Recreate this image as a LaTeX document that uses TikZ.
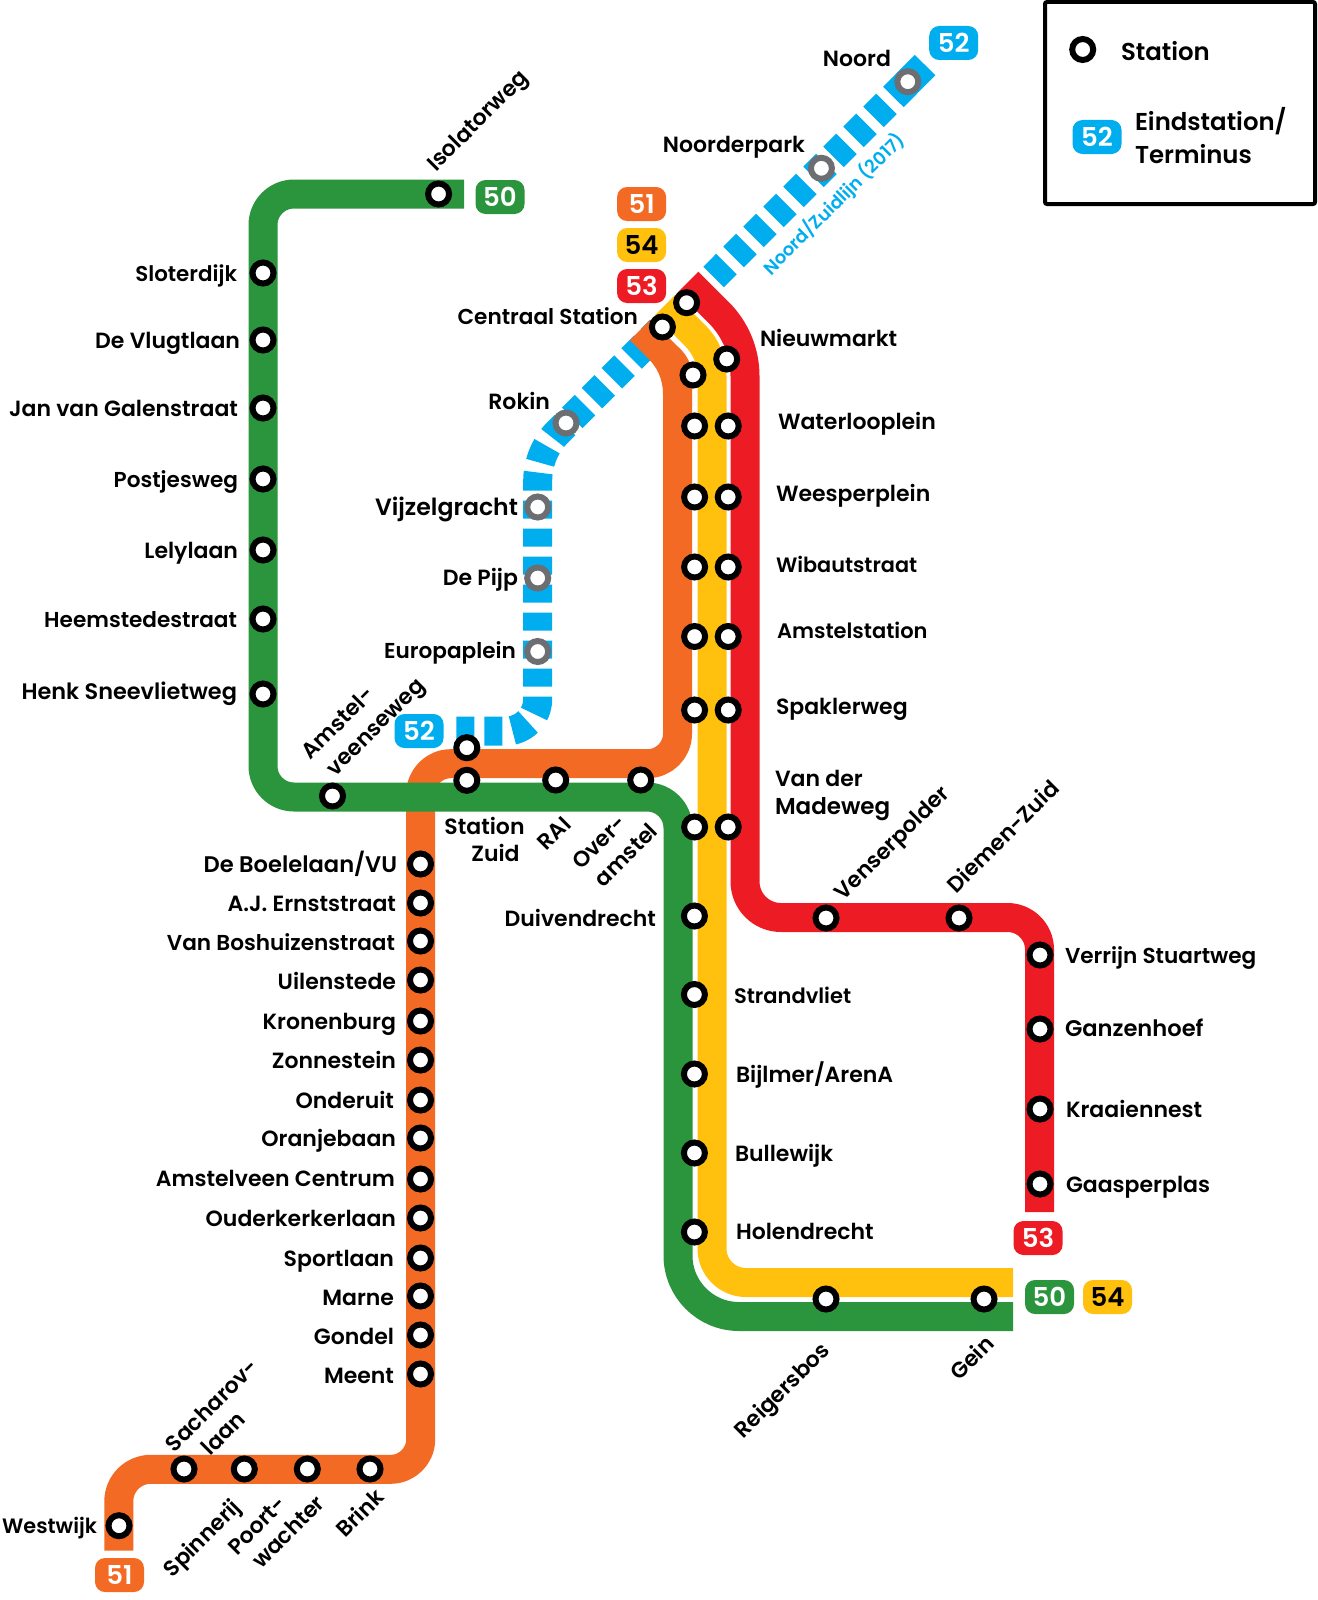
\documentclass[tikz,border=0pt]{standalone}
\usepackage{fontspec}
\setmainfont{Poppins SemiBold}
\newfontfamily\badgefont{Poppins SemiBold}
\definecolor{mgreen}{HTML}{2A953C}
\definecolor{morange}{HTML}{F36A24}
\definecolor{myellow}{HTML}{FFC10E}
\definecolor{mred}{HTML}{ED1C24}
\definecolor{mblue}{HTML}{00ADEF}
\definecolor{mgray}{HTML}{6D6E71}
\tikzset{
  track/.style={line width=14.5pt,line cap=butt,line join=round},
  bluedash/.style={line width=14.5pt,mblue,dash pattern=on 9pt off 5pt},
  stn/.style={circle,draw=black,fill=white,line width=3pt,minimum size=10.5pt,inner sep=0pt,outer sep=0pt},
  gstn/.style={stn,draw=mgray},
  lbl/.style={font=\fontsize{11}{13}\selectfont,inner sep=0pt,outer sep=0pt,text=black,text height=10pt,text depth=2pt},
  lr/.style={lbl,anchor=east},
  ll/.style={lbl,anchor=west},
  lc/.style={lbl,anchor=center},
  rt/.style={lbl,anchor=center,rotate=45},
  sz/.style={font=\fontsize{#1}{13}\selectfont},
  badge/.style={rounded corners=5pt,minimum width=24.5pt,minimum height=17pt,inner sep=0pt,font=\badgefont\fontsize{13}{13}\selectfont,text=white},
}
\begin{document}
\begin{tikzpicture}[x=.5pt,y=-.5pt]
\useasboundingbox (0,0) rectangle (1317,1600);
% blue dashed line
\draw[bluedash] (456.4,731) -- (505.7,731) .. controls (523.4,731) and (537.7,716.7) .. (537.7,699) -- (537.7,481) .. controls (537.7,462.4) and (545.1,444.9) .. (558.2,431.8) -- (660,330);
\draw[bluedash,dash pattern=on 9.15pt off 5pt] (713.5,277) -- (893.4,97);
\draw[line width=14.5pt,mblue] (893.4,97) -- (925,65);
% clipped lines meeting at Centraal Station
\begin{scope}
\clip (1100,-130) -- (-130,1100) -- (-130,1700) -- (1500,1700) -- (1500,-130) -- cycle;
\draw[track,morange] (620,310.2) -- (670.9,360.1) .. controls (675.1,364.3) and (677.5,370) .. (677.5,376) [rounded corners=15pt] -- (677.5,763.7) -- (420.7,763.7) -- (420.7,1469.3) [rounded corners=16pt] -- (118.8,1469.3) -- (118.8,1550.7);
\fill[morange] (646,356) .. controls (657,367) and (663,378) .. (663,395) -- (680,395) -- (680,360) -- cycle;
\draw[track,myellow] (640.3,280.7) -- (695.3,335.7) .. controls (706,346.4) and (712,360.9) .. (712,376) [rounded corners=17pt] -- (712,1282.5) -- (1013,1282.5);
\draw[track,mred] (670,264) -- (718.6,312.4) .. controls (735.5,329.3) and (745,352.1) .. (745,376) [rounded corners=18pt] -- (745,917.5) [rounded corners=16pt] -- (1039.5,917.5) -- (1039.5,1212);
\end{scope}
\draw[track,mgreen,rounded corners=15.5pt] (464,194) -- (263,194) -- (263,797) -- (678,797) [rounded corners=30.5pt] -- (678,1316.5) -- (1013,1316.5);
% stations: line 50 west
\foreach \n/\y in {a1/273,a2/340,a3/408,a4/479,a5/550,a6/619,a7/694} \node[stn] (\n) at (263,\y) {};
\node[stn] (iso) at (438.6,194) {};
\node[stn] (amv) at (332.5,796) {};
\node[stn] (zu1) at (466.8,747.7) {};
\node[stn] (zu2) at (466.8,780.3) {};
\node[stn] (rai) at (555.7,780) {};
\node[stn] (ova) at (640.7,780) {};
% double columns
\foreach \n/\y in {b1/426,b2/497,b3/567,b4/636.5,b5/710,b6/827} {\node[stn] (\n l) at (694.6,\y) {}; \node[stn] (\n r) at (728.2,\y) {};}
\node[stn] (cs1) at (662.4,327) {};
\node[stn] (cs2) at (686.6,302.7) {};
\node[stn] (nm1) at (693,375) {};
\node[stn] (nm2) at (726.7,359) {};
\foreach \n/\y in {c1/916,c2/994.5,c3/1074,c4/1153,c5/1232} \node[stn] (\n) at (694.4,\y) {};
\node[stn] (reg) at (826,1299) {};
\node[stn] (gei) at (984,1299) {};
\node[stn] (ven) at (826,918) {};
\node[stn] (die) at (959,918) {};
\foreach \n/\y in {d1/955,d2/1029,d3/1109,d4/1184} \node[stn] (\n) at (1040,\y) {};
\foreach \n/\y in {e1/864,e2/903,e3/941,e4/980,e5/1021,e6/1060,e7/1100,e8/1138,e9/1179,e10/1218,e11/1258,e12/1296,e13/1335,e14/1374} \node[stn] (\n) at (420.5,\y) {};
\foreach \n/\x in {f1/184,f2/244.3,f3/307.3,f4/370} \node[stn] (\n) at (\x,1469) {};
\node[stn] (wes) at (119,1525.7) {};
\node[gstn] (rok) at (566,423) {};
\node[gstn] (vij) at (537.7,507) {};
\node[gstn] (pij) at (537.7,578) {};
\node[gstn] (eur) at (537.7,651.5) {};
\node[gstn] (npk) at (821.4,168.3) {};
\node[gstn] (noo) at (907.8,81.7) {};
% labels, right aligned
\node[lr,sz=10.7] (t1) at (237,273) {Sloterdijk};
\node[lr] (t2) at (240,340) {De Vlugtlaan};
\node[lr] (t3) at (238,408) {Jan van Galenstraat};
\node[lr,sz=10.8] (t4) at (238,479) {Postjesweg};
\node[lr] (t5) at (238,550) {Lelylaan};
\node[lr,sz=10.8] (t6) at (237,619) {Heemstedestraat};
\node[lr,sz=11.2] (t7) at (237,691) {Henk Sneevlietweg};
\node[lr,sz=11.3] (t8) at (397,864) {De Boelelaan/VU};
\node[lr] (t9) at (396,903) {A.J. Ernststraat};
\node[lr,sz=10.8] (t10) at (395,942) {Van Boshuizenstraat};
\node[lr] (t11) at (396,981) {Uilenstede};
\node[lr] (t12) at (396,1021) {Kronenburg};
\node[lr] (t13) at (396,1060) {Zonnestein};
\node[lr] (t14) at (394,1100) {Onderuit};
\node[lr] (t15) at (396,1138) {Oranjebaan};
\node[lr] (t16) at (395,1178) {Amstelveen Centrum};
\node[lr] (t17) at (396,1218) {Ouderkerkerlaan};
\node[lr] (t18) at (394,1258) {Sportlaan};
\node[lr] (t19) at (394,1297) {Marne};
\node[lr] (t20) at (394,1336) {Gondel};
\node[lr] (t21) at (394,1375) {Meent};
\node[lr,sz=10.4] (t22) at (97,1525) {Westwijk};
\node[lr,sz=11.8] (t23) at (518,507) {Vijzelgracht};
\node[lr] (t24) at (518,577) {De Pijp};
\node[lr,sz=10.8] (t25) at (516,650) {Europaplein};
\node[lr] (t26) at (550,401) {Rokin};
\node[lr,sz=10.8] (t27) at (638,316) {Centraal Station};
\node[lr] (t28) at (805,145) {Noorderpark};
\node[lr] (t29) at (891,59) {Noord};
\node[lr] (t30) at (656,918) {Duivendrecht};
% labels, left aligned
\node[ll] (t31) at (760,338) {Nieuwmarkt};
\node[ll] (t32) at (778,421) {Waterlooplein};
\node[ll] (t33) at (776,493) {Weesperplein};
\node[ll,sz=10.4] (t34) at (776,564) {Wibautstraat};
\node[ll,sz=10.5] (t35) at (777,630) {Amstelstation};
\node[ll] (t36) at (776,706) {Spaklerweg};
\node[ll] (t37) at (775,778) {Van der};
\node[ll,sz=11.5] (t38) at (775,806) {Madeweg};
\node[ll,sz=10.5] (t39) at (734,995) {Strandvliet};
\node[ll] (t40) at (736,1074) {Bijlmer/ArenA};
\node[ll] (t41) at (735,1153) {Bullewijk};
\node[ll] (t42) at (736,1231) {Holendrecht};
\node[ll,sz=10.8] (t43) at (1065,955) {Verrijn Stuartweg};
\node[ll,sz=11.3] (t44) at (1065,1028) {Ganzenhoef};
\node[ll] (t45) at (1066,1109) {Kraaiennest};
\node[ll] (t46) at (1066,1184) {Gaasperplas};
\node[lc] (t47) at (484.5,826) {Station};
\node[lc] (t48) at (495.5,853) {Zuid};
% labels, rotated
\node[rt] (t49) at (477,120) {Isolatorweg};
\node[rt] (t50) at (337.5,722.7) {Amstel-};
\node[rt] (t51) at (375,726.5) {veenseweg};
\node[rt] (t52) at (891.5,842.5) {Venserpolder};
\node[rt] (t53) at (1002.7,836.5) {Diemen-Zuid};
\node[rt] (t54) at (554,833) {RAI};
\node[rt] (t55) at (599,841.7) {Over-};
\node[rt] (t56) at (625.7,855) {amstel};
\node[rt] (t57) at (781.7,1390) {Reigersbos};
\node[rt] (t58) at (971.7,1358) {Gein};
\node[rt] (t59) at (211.7,1405) {Sacharov-};
\node[rt] (t60) at (223,1433) {laan};
\node[rt] (t61) at (201.7,1538) {Spinnerij};
\node[rt] (t62) at (256.7,1525) {Poort-};
\node[rt] (t63) at (288,1531.7) {wachter};
\node[rt] (t64) at (360,1513) {Brink};
\node[rt,text=mblue,sz=9] (t65) at (833,203) {Noord/Zuidlijn (2017)};
% badges
\node[badge,fill=morange] (b51) at (641.6,204) {51};
\node[badge,fill=myellow,text=black] (b54) at (641.6,245) {54};
\node[badge,fill=mred] (b53) at (641.6,286) {53};
\node[badge,fill=mblue] (b52t) at (953.7,43) {52};
\node[badge,fill=mgreen] (b50t) at (500,197) {50};
\node[badge,fill=mblue] (b52l) at (419,731) {52};
\node[badge,fill=mred] (b53l) at (1038,1238) {53};
\node[badge,fill=mgreen] (b50b) at (1049.5,1297) {50};
\node[badge,fill=myellow,text=black] (b54b) at (1107.5,1297) {54};
\node[badge,fill=morange] (b51b) at (119.5,1575) {51};
% legend
\draw[line width=2pt,black,rounded corners=1pt] (1045,2) rectangle (1315,204);
\node[stn] (ls) at (1082.7,49.5) {};
\node[ll,sz=12.2] (lt1) at (1121,53) {Station};
\node[badge,fill=mblue] (lb) at (1097,137) {52};
\node[ll,sz=12.2] (lt2) at (1135,123) {Eindstation/};
\node[ll,sz=12.2] (lt3) at (1135,155.5) {Terminus};
\end{tikzpicture}
\end{document}
